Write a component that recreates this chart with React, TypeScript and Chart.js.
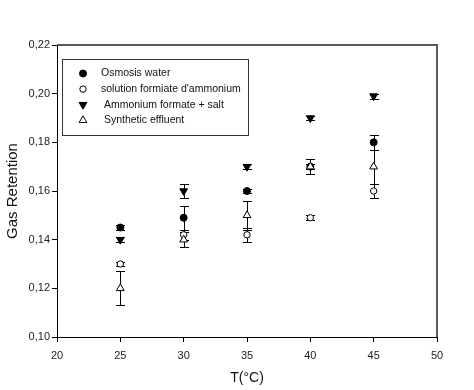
import React, { useEffect, useRef } from "react";
import { Chart, registerables } from "chart.js";

Chart.register(...registerables);

const temperatures = [25, 30, 35, 40, 45];
const osmosisWater = [0.145, 0.149, 0.16, 0.17, 0.18];
const osmosisWaterErr = [0.001, 0.005, 0.001, 0.001, 0.003];
const solutionFormiate = [0.13, 0.142, 0.142, 0.149, 0.16];
const solutionFormiateErr = [0.001, 0.002, 0.003, 0.001, 0.003];
const formateSalt = [0.14, 0.16, 0.17, 0.19, 0.199];
const formateSaltErr = [0.001, 0.003, 0.001, 0.001, 0.001];
const syntheticEffluent = [0.12, 0.14, 0.15, 0.17, 0.17];
const syntheticEffluentErr = [0.007, 0.003, 0.006, 0.003, 0.007];

const seriesLabels = [
  "Osmosis water",
  "solution formiate d'ammonium",
  " Ammonium formate + salt",
  " Synthetic effluent",
];
const xTicks = [20, 25, 30, 35, 40, 45, 50];
const yTicks = [0.1, 0.12, 0.14, 0.16, 0.18, 0.2, 0.22];
const xTitle = "T(°C)";
const yTitle = "Gas Retention";

const FONT = "'Liberation Sans', Arial, sans-serif";

type Marker = { style: "circle" | "triangle"; rot: number; fill: string; r: number };
const markers: Marker[] = [
  { style: "circle", rot: 0, fill: "#000", r: 3.5 },
  { style: "circle", rot: 0, fill: "#fff", r: 3.2 },
  { style: "triangle", rot: 180, fill: "#000", r: 4.5 },
  { style: "triangle", rot: 0, fill: "#fff", r: 4.5 },
];

function drawMarker(ctx: CanvasRenderingContext2D, m: Marker, x: number, y: number) {
  ctx.save();
  ctx.beginPath();
  if (m.style === "circle") {
    ctx.arc(x, y, m.r, 0, Math.PI * 2);
  } else {
    let rad = (m.rot * Math.PI) / 180;
    for (let i = 0; i < 3; i++) {
      const px = x + Math.sin(rad) * m.r;
      const py = y - Math.cos(rad) * m.r;
      if (i === 0) ctx.moveTo(px, py);
      else ctx.lineTo(px, py);
      rad += (2 * Math.PI) / 3;
    }
    ctx.closePath();
  }
  ctx.fillStyle = m.fill;
  ctx.strokeStyle = "#000";
  ctx.lineWidth = 1;
  ctx.fill();
  ctx.stroke();
  ctx.restore();
}

const errorArrays = [osmosisWaterErr, solutionFormiateErr, formateSaltErr, syntheticEffluentErr];

const errorBarPlugin = {
  id: "errorBars",
  beforeDatasetsDraw(chart: any) {
    const ctx = chart.ctx as CanvasRenderingContext2D;
    const xs = chart.scales.x;
    const ys = chart.scales.y;
    ctx.save();
    ctx.strokeStyle = "#000";
    ctx.lineWidth = 1;
    chart.data.datasets.forEach((ds: any, i: number) => {
      const errs = errorArrays[i];
      ds.data.forEach((p: any, j: number) => {
        const e = errs[j];
        const x = Math.round(xs.getPixelForValue(p.x)) + 0.5;
        const yTop = Math.round(ys.getPixelForValue(p.y + e)) + 0.5;
        const yBot = Math.round(ys.getPixelForValue(p.y - e)) + 0.5;
        ctx.beginPath();
        ctx.moveTo(x, yTop);
        ctx.lineTo(x, yBot);
        ctx.moveTo(x - 4.5, yTop);
        ctx.lineTo(x + 4.5, yTop);
        ctx.moveTo(x - 4.5, yBot);
        ctx.lineTo(x + 4.5, yBot);
        ctx.stroke();
      });
    });
    ctx.restore();
  },
};

const framePlugin = {
  id: "frameAndLegend",
  afterDraw(chart: any) {
    const ctx = chart.ctx as CanvasRenderingContext2D;
    const a = chart.chartArea;
    ctx.save();
    ctx.strokeStyle = "#5a5a5a";
    ctx.lineWidth = 2;
    ctx.beginPath();
    ctx.moveTo(a.left, a.top);
    ctx.lineTo(a.right, a.top);
    ctx.lineTo(a.right, a.bottom);
    ctx.stroke();

    // legend box
    const bx = a.left + 5;
    const by = a.top + 14;
    const bw = 186;
    const bh = 76;
    ctx.lineWidth = 1;
    ctx.strokeStyle = "#333";
    ctx.strokeRect(Math.round(bx) + 0.5, Math.round(by) + 0.5, bw, bh);
    ctx.font = `10.5px ${FONT}`;
    ctx.fillStyle = "#111";
    ctx.textBaseline = "middle";
    ctx.textAlign = "left";
    chart.data.datasets.forEach((ds: any, i: number) => {
      const rowY = by + 14.5 + i * 15.6;
      drawMarker(ctx, markers[i], bx + 21, rowY);
      ctx.fillText(ds.label, bx + 39, rowY);
    });
    ctx.restore();
  },
};

export default function App() {
  const ref = useRef<HTMLCanvasElement | null>(null);
  useEffect(() => {
    document.body.style.margin = "0";
    const series = [osmosisWater, solutionFormiate, formateSalt, syntheticEffluent];
    const datasets = series.map((vals, i) => ({
      label: seriesLabels[i],
      data: temperatures.map((t, j) => ({ x: t, y: vals[j] })),
      showLine: false,
      pointStyle: markers[i].style,
      rotation: markers[i].rot,
      pointRadius: markers[i].r,
      pointHoverRadius: markers[i].r,
      pointBackgroundColor: markers[i].fill,
      pointBorderColor: "#000",
      pointBorderWidth: 1,
      order: 4 - i,
    }));
    const chart = new Chart(ref.current as HTMLCanvasElement, {
      type: "scatter",
      data: { datasets },
      options: {
        animation: false,
        responsive: false,
        devicePixelRatio: 1,
        layout: { padding: { left: 0, top: 45, right: 37, bottom: 0 } },
        plugins: { legend: { display: false }, tooltip: { enabled: false } },
        scales: {
          x: {
            type: "linear",
            min: 20,
            max: 50,
            afterBuildTicks: (s: any) => {
              s.ticks = xTicks.map((v) => ({ value: v }));
            },
            afterFit: (s: any) => {
              s.height = 53;
            },
            ticks: {
              font: { family: FONT, size: 11 },
              color: "#222",
              padding: 7,
              maxRotation: 0,
              callback: (v: any) => String(v),
            },
            grid: {
              display: true,
              drawOnChartArea: false,
              drawTicks: true,
              tickLength: 5,
              color: "#000",
            },
            border: { display: true, color: "#000", width: 1 },
            title: {
              display: true,
              text: xTitle,
              font: { family: FONT, size: 14 },
              color: "#111",
              padding: { top: 0, bottom: 3 },
            },
          },
          y: {
            type: "linear",
            min: 0.1,
            max: 0.22,
            afterBuildTicks: (s: any) => {
              s.ticks = yTicks.map((v) => ({ value: v }));
            },
            afterFit: (s: any) => {
              s.width = 57;
            },
            ticks: {
              font: { family: FONT, size: 11 },
              color: "#222",
              padding: 2,
              callback: (v: any) => Number(v).toFixed(2).replace(".", ","),
            },
            grid: {
              display: true,
              drawOnChartArea: false,
              drawTicks: true,
              tickLength: 5,
              color: "#000",
            },
            border: { display: true, color: "#000", width: 1 },
            title: {
              display: true,
              text: yTitle,
              font: { family: FONT, size: 15 },
              color: "#111",
              padding: { top: 3.5, bottom: 0 },
            },
          },
        },
      },
      plugins: [errorBarPlugin, framePlugin],
    } as any);
    return () => chart.destroy();
  }, []);
  return (
    <div style={{ width: 474, height: 390 }}>
      <canvas ref={ref} width={474} height={390} />
    </div>
  );
}
